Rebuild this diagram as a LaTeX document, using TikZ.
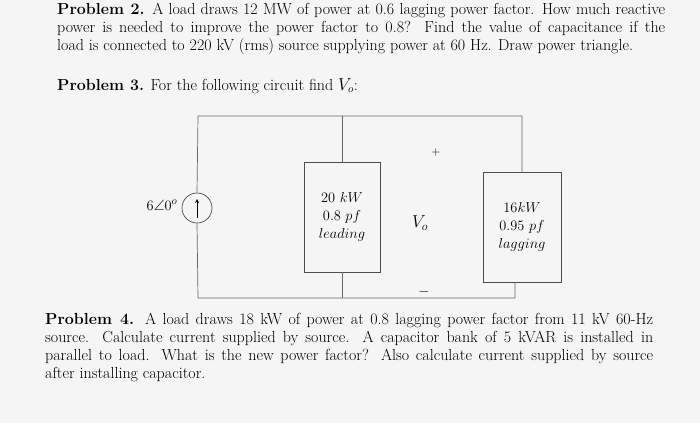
\documentclass[tikz,border=0pt]{standalone}
\usepackage{amssymb}
\begin{document}
\begin{tikzpicture}[x=1pt,y=-1pt,
  para/.style={anchor=north west,text width=608pt,align=justify,inner sep=0pt,font=\fontsize{16}{18}\selectfont},
  wire/.style={draw=black!60,line width=0.7pt},
  load/.style={draw=black!70,line width=0.7pt,minimum width=76pt,minimum height=110pt,align=center,font=\fontsize{15}{18}\selectfont}]
\useasboundingbox[fill=black!4] (0,0) rectangle (700,423);
\node[para] (p2) at (57,3) {\textbf{Problem 2.} A load draws 12 MW of power at 0.6 lagging power factor. How much reactive\linebreak power is needed to improve the power factor to 0.8? Find the value of capacitance if the\linebreak load is connected to 220 kV (rms) source supplying power at 60 Hz. Draw power triangle.};
\node[para] (p3) at (57,78) {\textbf{Problem 3.} For the following circuit find $V_o$:};
\node[load] (b1) at (342,217) {$20\ kW$\\$0.8\ pf$\\$leading$};
\node[load,minimum width=78pt] (b2) at (522,227) {$16kW$\\$0.95\ pf$\\$lagging$};
\node[circle,draw=black!70,line width=0.7pt,minimum size=30pt,inner sep=0pt] (src) at (197,208) {};
\draw[-stealth,line width=0.8pt] ([yshift=-10pt]src.center) -- ([yshift=9pt]src.center);
\node[anchor=east,font=\fontsize{15}{17}\selectfont] (lbl) at (181,205) {$6\angle 0^o$};
\coordinate (tl) at (198,116);
\coordinate (bl) at (198,298);
\coordinate (tr) at (522,116);
\coordinate (br) at (515,298);
\draw[wire] (src.north) -- (tl) -- (tr) -- (b2.north);
\draw[wire] (src.south) -- (bl) -- (br) -- (b2.south -| br);
\draw[wire] (b1.north) -- (b1.north |- tl);
\draw[wire] (b1.south) -- (b1.south |- bl);
\node[font=\fontsize{13}{15}\selectfont] (plus) at (436,152) {$+$};
\node[font=\fontsize{17}{19}\selectfont] (vo) at (420,223) {$V_o$};
\node[font=\fontsize{15}{17}\selectfont] (minus) at (424,292) {$-$};
\node[para,text width=608pt] (p4) at (45,313) {\textbf{Problem 4.} A load draws 18 kW of power at 0.8 lagging power factor from 11 kV 60-Hz\linebreak source. Calculate current supplied by source. A capacitor bank of 5 kVAR is installed in\linebreak parallel to load. What is the new power factor? Also calculate current supplied by source\linebreak after installing capacitor.};
\end{tikzpicture}
\end{document}
